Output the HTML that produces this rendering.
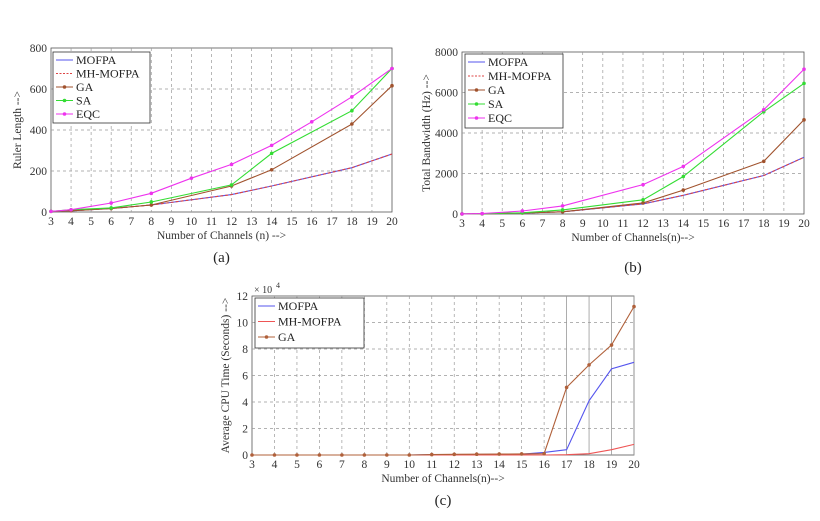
<!DOCTYPE html>
<html><head><meta charset="utf-8"><style>
body{margin:0;background:#fff;}
svg{display:block;font-family:"Liberation Serif",serif;}
</style></head><body>
<svg id="s" width="820" height="521" xmlns="http://www.w3.org/2000/svg"></svg>
<script>
const S=document.getElementById('s');let h='';
function chart(o){
 const {x0,x1,y0,y1,ymax,yt}=o;
 const X=v=>x0+(v-3)/17*(x1-x0), Y=v=>y1-(v/ymax)*(y1-y0);
 h+=`<rect x="${x0}" y="${y0}" width="${x1-x0}" height="${y1-y0}" fill="#fff" stroke="#555" stroke-width="0.8"/>`;
 for(let i=3;i<=20;i++){const x=X(i);
  if(o.solidV&&i>=17) h+=`<line x1="${x}" y1="${y0}" x2="${x}" y2="${y1}" stroke="#999" stroke-width="0.8"/>`;
  else if(i>3&&i<20) h+=`<line x1="${x}" y1="${y0}" x2="${x}" y2="${y1}" stroke="#999" stroke-width="0.7" stroke-dasharray="3,3"/>`;
  h+=`<text x="${x}" y="${y1+13}" font-size="11.5" text-anchor="middle" fill="#333">${i}</text>`;}
 yt.forEach((v,k)=>{const y=Y(v);
  if(v>0&&v<ymax) h+=`<line x1="${x0}" y1="${y}" x2="${x1}" y2="${y}" stroke="#999" stroke-width="0.7" stroke-dasharray="3,3"/>`;
  h+=`<text x="${x0-4}" y="${y+4}" font-size="11.5" text-anchor="end" fill="#333">${v}</text>`;});
 o.series.forEach(s=>{const p=s.d.map(d=>X(d[0]).toFixed(1)+','+Y(d[1]).toFixed(1)).join(' ');
  h+=`<polyline points="${p}" fill="none" stroke="${s.c}" stroke-width="1.1" ${s.dash?'stroke-dasharray="3,2"':''}/>`;
  if(s.m) s.d.forEach(d=>{h+=`<circle cx="${X(d[0])}" cy="${Y(d[1])}" r="1.8" fill="${s.c}"/>`;});});
 const L=o.leg;h+=`<rect x="${L.x}" y="${L.y}" width="${L.w}" height="${L.h}" fill="#fff" stroke="#333" stroke-width="0.8"/>`;
 o.series.forEach((s,k)=>{const y=L.y+8+k*L.dy;
  h+=`<line x1="${L.x+3}" y1="${y}" x2="${L.x+20}" y2="${y}" stroke="${s.c}" stroke-width="1.1" ${s.dash?'stroke-dasharray="2,1.5"':''}/>`;
  if(s.m) h+=`<circle cx="${L.x+11.5}" cy="${y}" r="1.8" fill="${s.c}"/>`;
  h+=`<text x="${L.x+23}" y="${y+4}" font-size="12" fill="#222">${s.n}</text>`;});
 h+=`<text x="${(x0+x1)/2}" y="${y1+27}" font-size="11.5" text-anchor="middle" fill="#333">${o.xl}</text>`;
 h+=`<text transform="translate(${o.ylx},${(y0+y1)/2}) rotate(-90)" font-size="11.5" text-anchor="middle" fill="#333">${o.yl}</text>`;
 h+=`<text x="${(x0+x1)/2}" y="${o.capy}" font-size="15" text-anchor="middle" fill="#222">${o.cap}</text>`;
}
const xs=[3,4,6,8,12,14,18,20];
const z=(a)=>xs.map((x,i)=>[x,a[i]]);
chart({x0:51,x1:392,y0:48,y1:212,ymax:800,yt:[0,200,400,600,800],ylx:21,xl:"Number of Channels (n) -->",yl:"Ruler Length -->",cap:"(a)",capy:262,
 leg:{x:53,y:52,w:97,h:71,dy:13.5},
 series:[{n:"MOFPA",c:"#5555ee",d:z([3,6,17,34,85,127,216,283])},
 {n:"MH-MOFPA",c:"#dd4444",dash:1,d:z([3,6,17,34,85,127,216,283])},
 {n:"GA",c:"#a0522d",m:1,d:z([3,6,17,34,127,206,429,616])},
 {n:"SA",c:"#33dd33",m:1,d:z([3,11,20,49,132,286,494,700])},
 {n:"EQC",c:"#ee33ee",m:1,d:[[3,3],[4,11],[6,44],[8,91],[10,165],[12,232],[14,325],[16,440],[18,562],[20,700]]}]});
chart({x0:462,x1:804,y0:52,y1:214,ymax:8000,yt:[0,2000,4000,6000,8000],ylx:430,xl:"Number of Channels(n)-->",yl:"Total Bandwidth (Hz) -->",cap:"(b)",capy:272,
 leg:{x:465,y:54,w:98,h:74,dy:14},
 series:[{n:"MOFPA",c:"#5555ee",d:z([6,11,50,110,500,925,1900,2800])},
 {n:"MH-MOFPA",c:"#dd4444",dash:1,d:z([6,11,50,110,500,925,1900,2800])},
 {n:"GA",c:"#a0522d",m:1,d:z([6,11,50,110,550,1180,2600,4650])},
 {n:"SA",c:"#33dd33",m:1,d:z([6,11,60,200,700,1850,5050,6450])},
 {n:"EQC",c:"#ee33ee",m:1,d:z([6,20,150,400,1450,2350,5150,7150])}]});
const all=[];for(let i=3;i<=20;i++)all.push(i);
const ga=[0,0,0,0,0,0,0,0,0.03,0.05,0.06,0.07,0.08,0.1,5.1,6.8,8.3,11.2];
const mo=[0,0,0,0,0,0,0,0,0.02,0.03,0.04,0.05,0.06,0.2,0.4,4.1,6.5,7.0];
const mh=[0,0,0,0,0,0,0,0,0,0,0,0,0,0,0.02,0.1,0.4,0.8];
chart({x0:252,x1:634,y0:296,y1:455,ymax:12,yt:[0,2,4,6,8,10,12],ylx:229,solidV:1,xl:"Number of Channels(n)-->",yl:"Average CPU Time (Seconds) -->",cap:"(c)",capy:505,
 leg:{x:255,y:298,w:109,h:50,dy:15.5},
 series:[{n:"MOFPA",c:"#5555ee",d:all.map((x,i)=>[x,mo[i]])},
 {n:"MH-MOFPA",c:"#ee5555",d:all.map((x,i)=>[x,mh[i]])},
 {n:"GA",c:"#b0603a",m:1,d:all.map((x,i)=>[x,ga[i]])}]});
h+=`<text x="254" y="293" font-size="10" fill="#333">× 10</text><text x="276" y="288" font-size="8" fill="#333">4</text>`;
S.innerHTML=h;
</script>
</body></html>
